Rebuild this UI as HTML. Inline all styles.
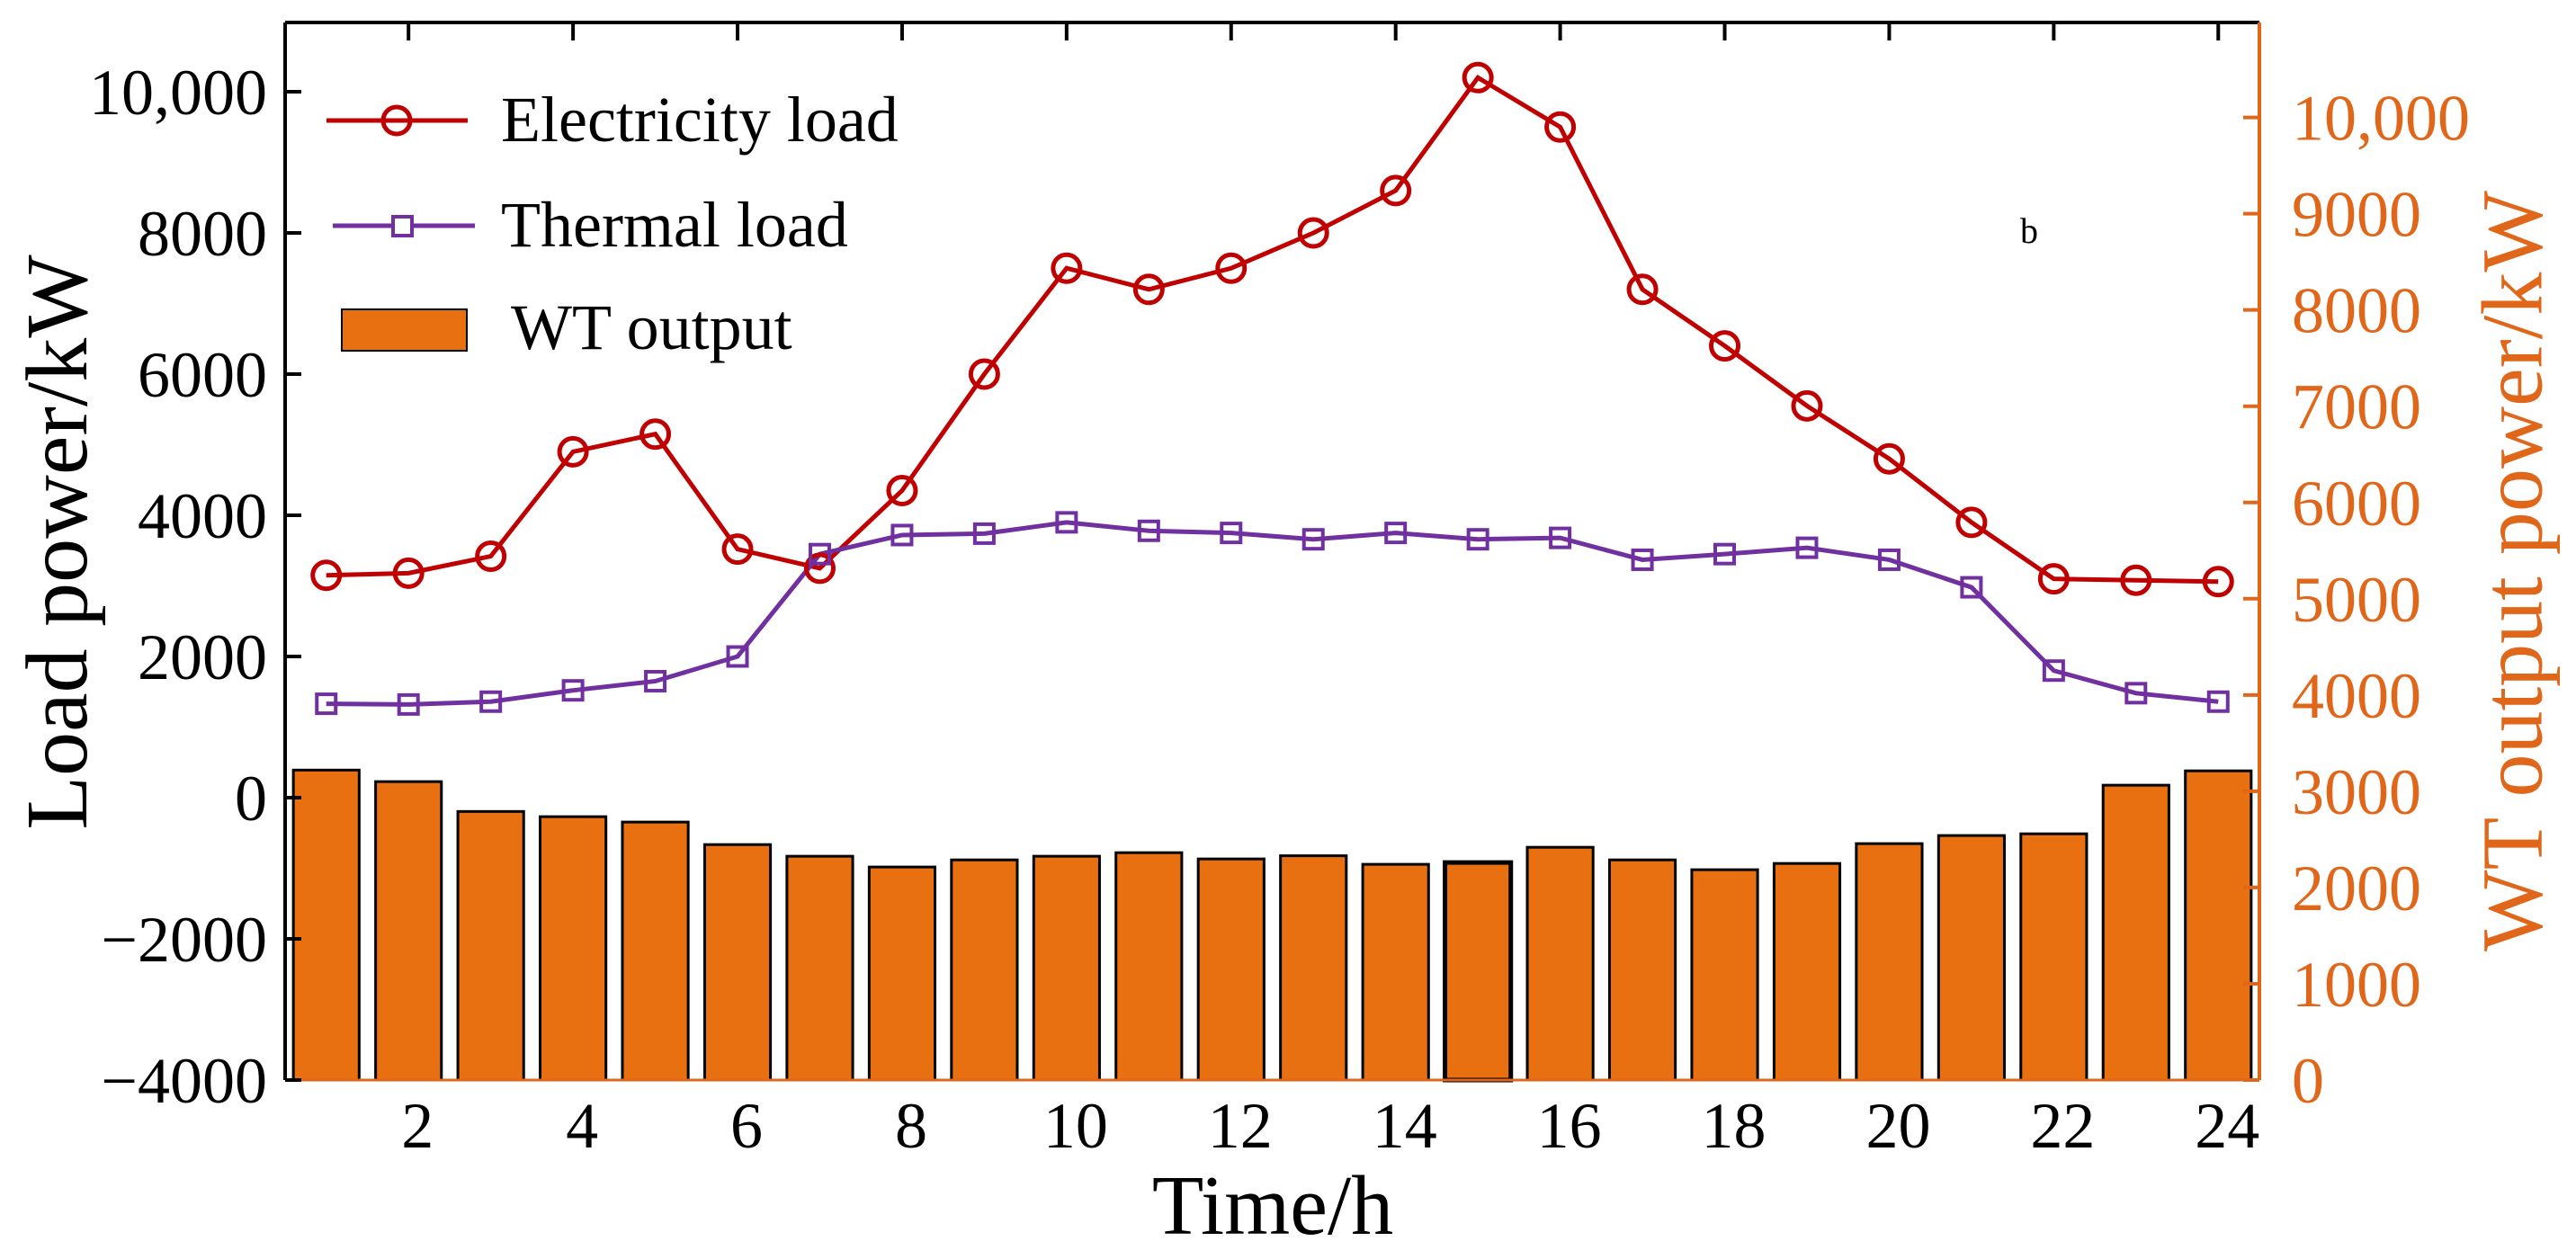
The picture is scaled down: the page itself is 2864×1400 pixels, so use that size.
<!DOCTYPE html>
<html><head><meta charset="utf-8"><style>
body{margin:0;background:#fff}
svg{display:block;font-family:"Liberation Serif",serif}
</style></head><body>
<svg id="chart" width="2864" height="1400" viewBox="0 0 2864 1400" xmlns="http://www.w3.org/2000/svg">
<g id="bars"></g>
<g id="lines"></g>
<g id="axes"></g>
<text x="64" y="603" font-size="98" text-anchor="middle" dominant-baseline="central" transform="rotate(-90 64 603)">Load power/kW</text>
<text x="2793" y="635" font-size="96" fill="#e0661a" text-anchor="middle" dominant-baseline="central" transform="rotate(-90 2793 635)">WT output power/kW</text>
<text x="1415" y="1372" font-size="94" text-anchor="middle">Time/h</text>
<text x="2256" y="270" font-size="40" text-anchor="middle">b</text>
<g>
<g>
<line x1="363" y1="134" x2="520" y2="134" stroke="#c00000" stroke-width="5"/>
<circle cx="441" cy="134" r="15" fill="none" stroke="#c00000" stroke-width="5"/>
<text x="557" y="157" font-size="72">Electricity load</text></g>
<g>
<line x1="370" y1="251" x2="528" y2="251" stroke="#7030a0" stroke-width="5"/>
<rect x="437" y="241" width="21" height="21" fill="#fff" stroke="#7030a0" stroke-width="4"/>
<text x="557" y="274" font-size="72">Thermal load</text></g>
<g>
<rect x="380" y="344" width="139" height="46" fill="#e97010" stroke="#000" stroke-width="2"/>
<text x="568" y="388" font-size="72">WT output</text></g>
</g>
</svg>
<script>
const hours=[1,2,3,4,5,6,7,8,9,10,11,12,13,14,15,16,17,18,19,20,21,22,23,24];
const electricity=[3150,3180,3420,4900,5150,3520,3250,4350,6000,7500,7200,7500,8000,8600,10200,9500,7200,6400,5550,4800,3900,3100,3080,3060];
const thermal=[1330,1320,1360,1520,1650,2000,3450,3720,3740,3900,3780,3750,3660,3750,3660,3680,3370,3450,3540,3370,2980,1800,1480,1360];
const wt=[3220,3100,2790,2736,2680,2446,2325,2213,2287,2325,2362,2297,2330,2241,2260,2418,2287,2185,2250,2456,2540,2558,3063,3212];
const leftTicks=[-4000,-2000,0,2000,4000,6000,8000,10000];
const leftLabels=["\u22124000","\u22122000","0","2000","4000","6000","8000","10,000"];
const rightTicks=[0,1000,2000,3000,4000,5000,6000,7000,8000,9000,10000];
const rightLabels=["0","1000","2000","3000","4000","5000","6000","7000","8000","9000","10,000"];
const xTicks=[2,4,6,8,10,12,14,16,18,20,22,24];
const L=317,R=2512,T=25,B=1201;
const xs=h=>L+(h-0.5)*(R-L)/24;
const yl=v=>B-(v+4000)*(B-102)/14000;
const yr=v=>B-v*(B-130.6)/10000;
const NS="http://www.w3.org/2000/svg";
function mk(p,t,a){const e=document.createElementNS(NS,t);for(const k in a)e.setAttribute(k,a[k]);p.appendChild(e);return e;}
const bars=document.getElementById('bars'),lines=document.getElementById('lines'),axes=document.getElementById('axes');
const bw=0.8*(R-L)/24;
wt.forEach((v,i)=>{const b=mk(bars,'rect',{x:xs(hours[i])-bw/2,y:yr(v),width:bw,height:B-yr(v),fill:'#e97010',stroke:'#000','stroke-width':i===14?5:3});

});
const ep=mk(lines,'polyline',{points:electricity.map((v,i)=>xs(hours[i])+','+yl(v)).join(' '),fill:'none',stroke:'#c00000','stroke-width':5});


const tp=mk(lines,'polyline',{points:thermal.map((v,i)=>xs(hours[i])+','+yl(v)).join(' '),fill:'none',stroke:'#7030a0','stroke-width':5});


electricity.forEach((v,i)=>{const c=mk(lines,'circle',{cx:xs(hours[i]),cy:yl(v),r:15,fill:'none',stroke:'#c00000','stroke-width':5});

});
thermal.forEach((v,i)=>{const s=mk(lines,'rect',{x:xs(hours[i])-10.5,y:yl(v)-10.5,width:21,height:21,fill:'none',stroke:'#7030a0','stroke-width':4});

});
mk(axes,'line',{x1:L,y1:T,x2:R,y2:T,stroke:'#000','stroke-width':4});
mk(axes,'line',{x1:L,y1:T,x2:L,y2:B,stroke:'#000','stroke-width':4});
mk(axes,'line',{x1:L,y1:B,x2:R,y2:B,stroke:'#e0661a','stroke-width':3});
mk(axes,'line',{x1:R,y1:T,x2:R,y2:B,stroke:'#e0661a','stroke-width':4});
leftTicks.forEach((v,i)=>{mk(axes,'line',{x1:L,y1:yl(v),x2:L+18,y2:yl(v),stroke:'#000','stroke-width':4});
const t=mk(axes,'text',{x:297,y:yl(v)+25,'font-size':72,'text-anchor':'end'});t.textContent=leftLabels[i];

});
rightTicks.forEach((v,i)=>{mk(axes,'line',{x1:R,y1:yr(v),x2:R-18,y2:yr(v),stroke:'#e0661a','stroke-width':4});
const t=mk(axes,'text',{x:2548,y:yr(v)+25,'font-size':72,fill:'#e0661a'});t.textContent=rightLabels[i];

});
xTicks.forEach(h=>{mk(axes,'line',{x1:xs(h),y1:T,x2:xs(h),y2:T+20,stroke:'#000','stroke-width':4});
const t=mk(axes,'text',{x:xs(h)+10,y:1276,'font-size':72,'text-anchor':'middle'});t.textContent=h;

});
</script>
</body></html>
